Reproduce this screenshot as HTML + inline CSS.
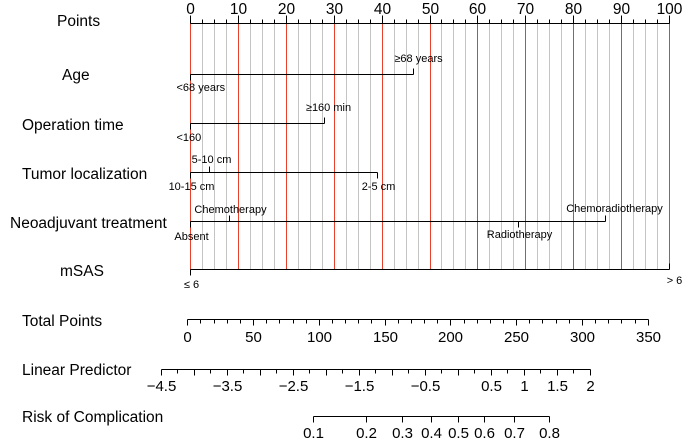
<!DOCTYPE html>
<html><head><meta charset="utf-8"><style>
body{margin:0;background:#fff;}
svg{display:block;font-family:"Liberation Sans",Arial,sans-serif;}
</style></head><body>
<svg id="c" width="685" height="443"></svg>
<script>
const pointTicks=[0,10,20,30,40,50,60,70,80,90,100];
const totalTicks=[0,50,100,150,200,250,300,350];
const lpTicks=[-4.5,-3.5,-2.5,-1.5,-0.5,0.5,1,1.5,2];
const riskTicks=[0.1,0.2,0.3,0.4,0.5,0.6,0.7,0.8];
const ageLevels=["<68 years","≥68 years"];
const agePoints=[0,46.6];
const opLevels=["<160","≥160 min"];
const opPoints=[0,27.9];
const tumorLevels=["10-15 cm","5-10 cm","2-5 cm"];
const tumorPoints=[0,4.0,39.1];
const neoLevels=["Absent","Chemotherapy","Radiotherapy","Chemoradiotherapy"];
const neoPoints=[0,8.2,68.5,86.7];
const msasLevels=["≤ 6","> 6"];
const msasPoints=[0,100];

const svg=document.getElementById('c');
const NS='http://www.w3.org/2000/svg';
const px=p=>Math.round(190+p*4.79)+0.5;
const tx=t=>Math.round(187.3+t*(460.4/350))+0.5;
const lx=v=>Math.round(160.7+(v+4.5)*66)+0.5;
const rx=r=>Math.round(160.7+(Math.log(r/(1-r))+4.5)*66)+0.5;
function el(tag,a,parent){const e=document.createElementNS(NS,tag);for(const k in a)e.setAttribute(k,a[k]);(parent||svg).appendChild(e);return e;}
function line(x1,y1,x2,y2,stroke,w,name){const e=el('line',{x1,y1:y1+0.5,x2,y2:y2+0.5,stroke,'stroke-width':w});

return e;}
function text(x,y,s,size,anchor,name){const e=el('text',{x,y,'font-size':size,'text-anchor':anchor||'middle',fill:'#000'});e.textContent=s;

return e;}

// grid
for(let i=0;i<=40;i++){if(i%4===0)continue;line(px(i*2.5),23,px(i*2.5),269,'#c4c4c4',1,'grid-minor');}
pointTicks.forEach(p=>line(px(p),23,px(p),269,'#e8402a',1,'grid-major'));

// row labels
text(57,26,'Points',15.5,'start','points-label');
text(62,80,'Age',15.5,'start','age-label');
text(22,130,'Operation time',15.5,'start','operation-time-label');
text(22,179,'Tumor localization',15.5,'start','tumor-localization-label');
text(10,228,'Neoadjuvant treatment',15.5,'start','neoadjuvant-label');
text(60,276,'mSAS',15.5,'start','msas-label');
text(22,326,'Total Points',15.5,'start','total-points-label');
text(22,375,'Linear Predictor',15.5,'start','linear-predictor-label');
text(22,422,'Risk of Complication',15.5,'start','risk-label');

// Points axis
line(px(0),23,px(100),23,'#000',1,'points-axis');
for(let i=0;i<=40;i++){const p=i*2.5;line(px(p),23,px(p),i%4===0?15:19,'#000',1,'points-tick');}
pointTicks.forEach(p=>text(px(p),14,String(p),15.5,'middle','points-tick-label'));

// Age
line(px(0),74,px(agePoints[1]),74,'#000',1,'age-line');
line(px(0),74,px(0),80,'#000',1,'age-tick');line(px(agePoints[1]),74,px(agePoints[1]),68,'#000',1,'age-tick');
text(px(0)-14,91,ageLevels[0],11,'start','age-level');text(px(agePoints[1])+5,62,ageLevels[1],11,'middle','age-level');
// Operation
line(px(0),123,px(opPoints[1]),123,'#000',1,'operation-line');
line(px(0),123,px(0),129,'#000',1,'operation-tick');line(px(opPoints[1]),123,px(opPoints[1]),117,'#000',1,'operation-tick');
text(px(0)-14,141,opLevels[0],11,'start','operation-level');text(px(opPoints[1])+4,111,opLevels[1],11,'middle','operation-level');
// Tumor
line(px(0),172,px(Math.max(...tumorPoints)),172,'#000',1,'tumor-line');
line(px(tumorPoints[0]),172,px(tumorPoints[0]),178,'#000',1,'tumor-tick');
line(px(tumorPoints[1]),172,px(tumorPoints[1]),166,'#000',1,'tumor-tick');
line(px(tumorPoints[2]),172,px(tumorPoints[2]),178,'#000',1,'tumor-tick');
text(px(tumorPoints[0])+1,190,tumorLevels[0],11,'middle','tumor-level');
text(px(tumorPoints[1])+2,163,tumorLevels[1],11,'middle','tumor-level');
text(px(tumorPoints[2])+1,190,tumorLevels[2],11,'middle','tumor-level');
// Neoadjuvant
line(px(0),221,px(Math.max(...neoPoints)),221,'#000',1,'neo-line');
line(px(neoPoints[0]),221,px(neoPoints[0]),227,'#000',1,'neo-tick');
line(px(neoPoints[1]),221,px(neoPoints[1]),215,'#000',1,'neo-tick');
line(px(neoPoints[2]),221,px(neoPoints[2]),227,'#000',1,'neo-tick');
line(px(neoPoints[3]),221,px(neoPoints[3]),215,'#000',1,'neo-tick');
text(px(neoPoints[0])+1,240,neoLevels[0],11,'middle','neo-level');
text(px(neoPoints[1])+1,213,neoLevels[1],11,'middle','neo-level');
text(px(neoPoints[2])+1,238,neoLevels[2],11,'middle','neo-level');
text(px(neoPoints[3])+9,212,neoLevels[3],11,'middle','neo-level');
// mSAS
line(px(msasPoints[0]),269,px(msasPoints[1]),269,'#000',1,'msas-line');
line(px(msasPoints[0]),269,px(msasPoints[0]),275,'#000',1,'msas-tick');
line(px(msasPoints[1]),269,px(msasPoints[1]),263,'#000',1,'msas-tick');
text(px(msasPoints[0])+1,288,msasLevels[0],11,'middle','msas-level');
text(px(msasPoints[1])+5,284,msasLevels[1],11,'middle','msas-level');

// Total points
line(tx(0),319,tx(350),319,'#000',1,'total-axis');
for(let t=0;t<=350;t+=10)line(tx(t),319,tx(t),t%50===0?325:323,'#000',1,'total-tick');
totalTicks.forEach(t=>text(tx(t),342,String(t),15,'middle','total-tick-label'));

// Linear predictor
line(lx(-4.5),369,lx(2),369,'#000',1,'lp-axis');
for(let i=0;i<=26;i++){const v=-4.5+i*0.25;line(lx(v),369,lx(v),i%2===0?375:373,'#000',1,'lp-tick');}
lpTicks.forEach(v=>text(lx(v),391,(v<0?'\u2212':'')+String(Math.abs(v)),15,'middle','lp-tick-label'));

// Risk
line(rx(riskTicks[0]),416,rx(riskTicks[riskTicks.length-1]),416,'#000',1,'risk-axis');
riskTicks.forEach(r=>{line(rx(r),416,rx(r),422,'#000',1,'risk-tick');text(rx(r),438,String(r),15,'middle','risk-tick-label');});
</script>
</body></html>
